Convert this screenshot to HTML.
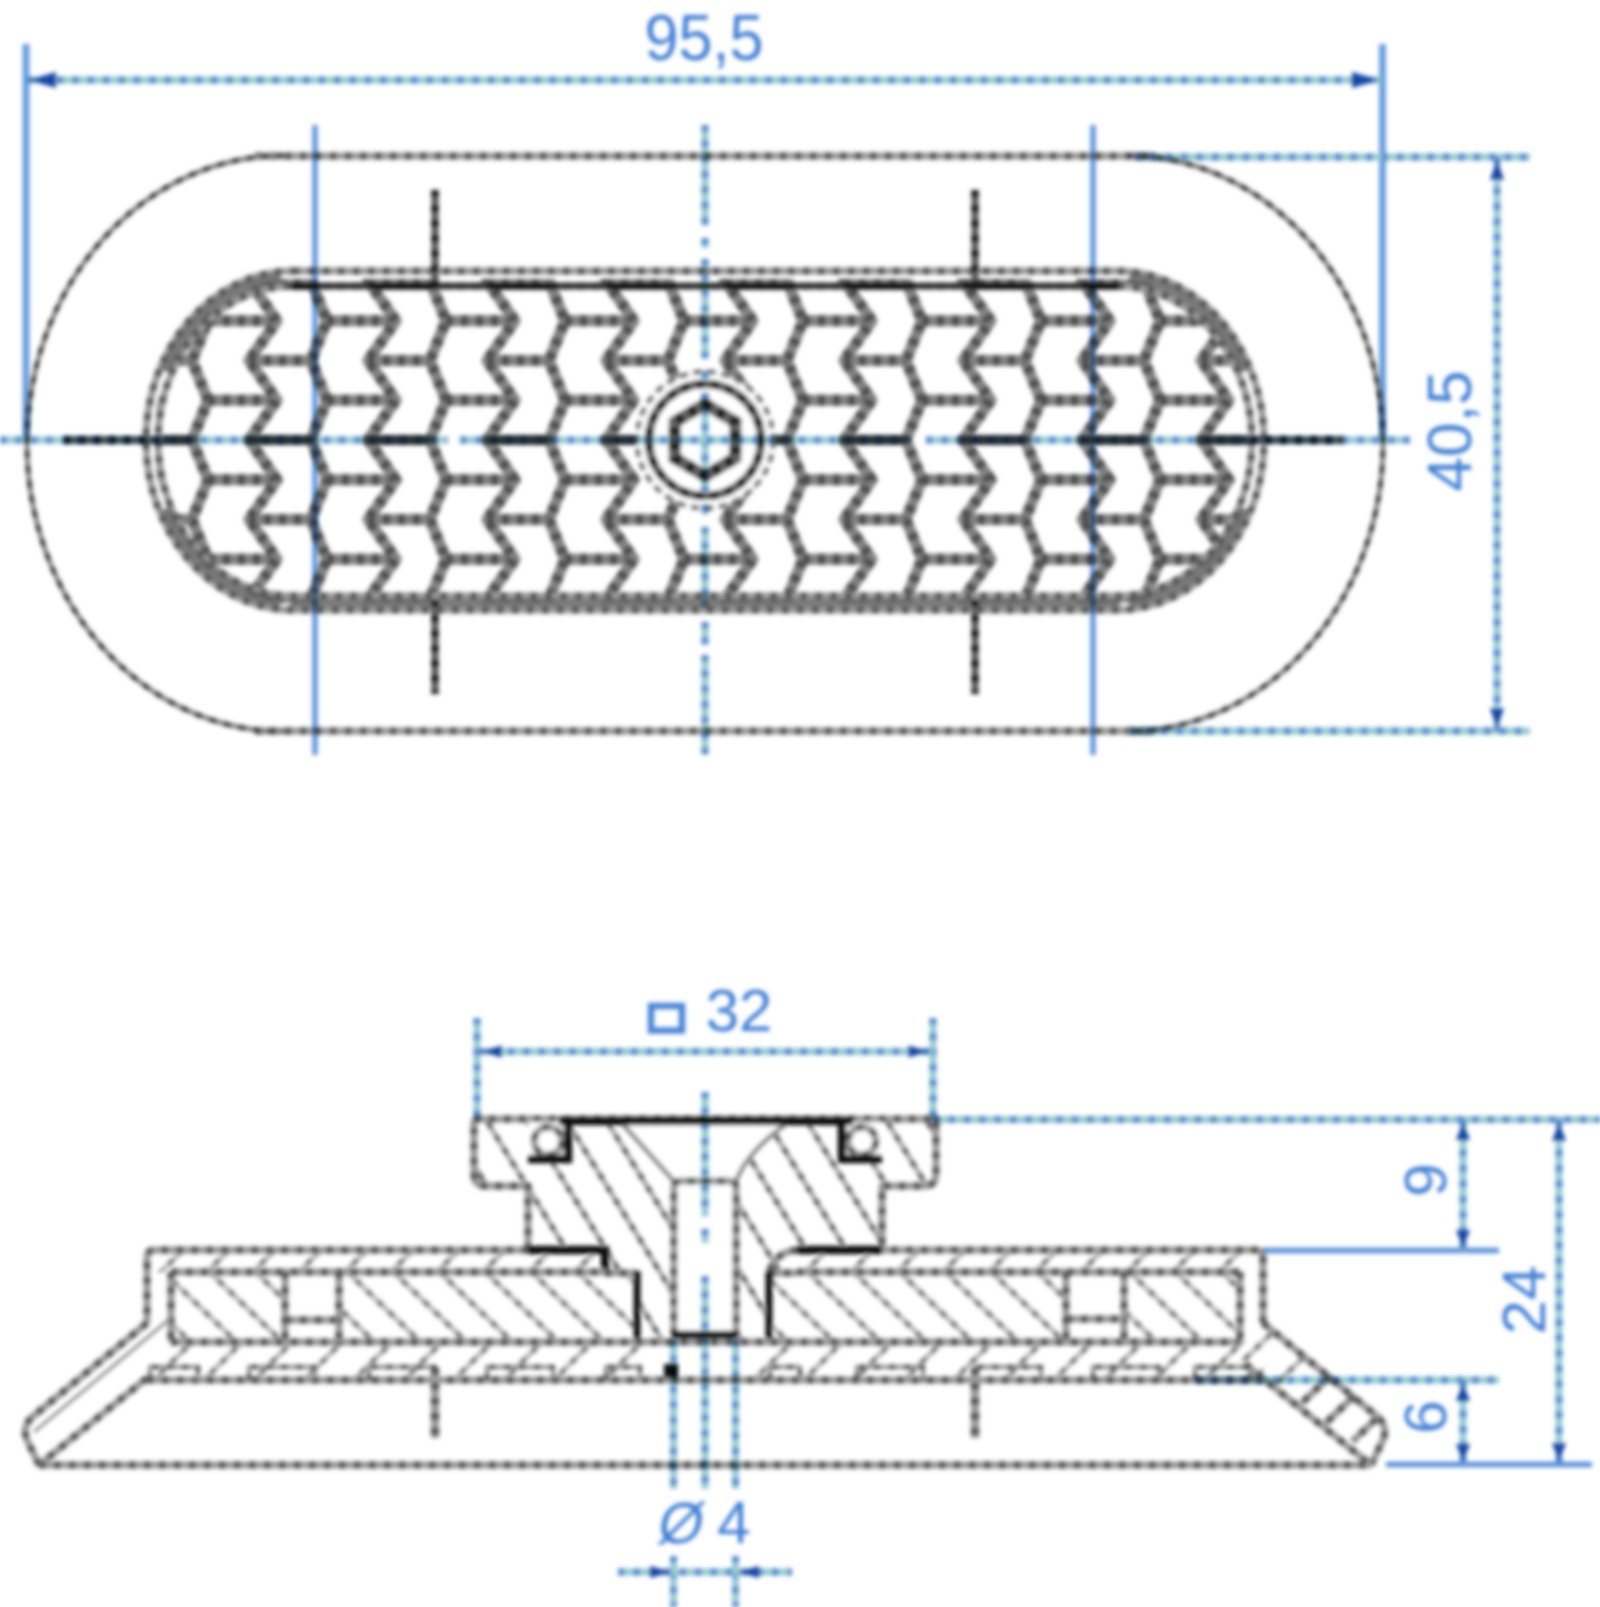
<!DOCTYPE html>
<html lang="en"><head><meta charset="utf-8"><title>Suction pad drawing</title>
<style>
html,body{margin:0;padding:0;background:#fff;}
body{width:1600px;height:1607px;overflow:hidden;}
svg{display:block}
.g,.g0{stroke:#555;stroke-width:7;fill:none;stroke-linecap:butt;stroke-linejoin:round;stroke-dasharray:6.5 8.5}
.g0{stroke:#9a9a9a;stroke-dasharray:none}
.ga{stroke:#4a4a4a;stroke-width:4.6;fill:none}
.gt,.gt0{stroke:#3c3c3c;stroke-width:4.8;fill:none;stroke-dasharray:8 7}
.gt0{stroke:#858585;stroke-dasharray:none}
.gl{stroke:#777;stroke-width:4.5;fill:none}
.gw{stroke:#4c4c4c;stroke-width:5.5;fill:#fff;stroke-linejoin:round}
.k{stroke:#111;stroke-width:8.5;fill:none;stroke-linecap:butt}
.kt,.kt0{stroke:#1c1c1c;stroke-width:7.5;fill:none;stroke-dasharray:7 8}
.kt0{stroke:#606060;stroke-dasharray:none}
.p,.p0{stroke:#4e4e4e;stroke-width:11;fill:none;stroke-linejoin:round;stroke-linecap:butt;stroke-dasharray:7 8}
.p0{stroke:#828282;stroke-dasharray:none}
.h,.h0{stroke:#787878;stroke-width:5;fill:none;stroke-dasharray:6.5 8.5}
.h0{stroke:#bbb;stroke-dasharray:none}
.hc,.hc0{stroke:#606060;stroke-width:5;fill:none;stroke-dasharray:6.5 8.5}
.hc0{stroke:#a8a8a8;stroke-dasharray:none}
.bb{stroke:#98ccd2;stroke-width:7;fill:none}
.b{stroke:#5a8bd0;stroke-width:7;fill:none;stroke-dasharray:6.5 8.9}
.bs{stroke:#6296dc;stroke-width:5.5;fill:none}
.ar{fill:#124aa6;stroke:none}
text{font-family:"Liberation Sans",sans-serif;fill:#3f7fd4}
</style></head><body>
<svg width="1600" height="1607" viewBox="0 0 1600 1607">
<defs>
<filter id="bl" x="-2%" y="-2%" width="104%" height="104%"><feGaussianBlur stdDeviation="2.3"/></filter>
<filter id="bt" x="-10%" y="-10%" width="120%" height="120%"><feGaussianBlur stdDeviation="2.2"/></filter>
<clipPath id="cpad"><path d="M293,279 H1117 A139,162 0 0 1 1117,603 H293 A139,162 0 0 1 293,279 Z"/></clipPath>
<clipPath id="cconn"><path d="M474,1118 H936 V1174 Q936,1186 924,1186 H882 V1250 H797 V1273 H769 V1340 H637 V1273 H605 V1250 H528 V1186 H486 Q474,1186 474,1174 Z"/></clipPath>
<clipPath id="ctop"><path d="M147,1250 H605 V1272 H147 Z M797,1250 H1263 V1272 H797 Z"/></clipPath>
<clipPath id="cplate"><path d="M171,1273 H285 V1342 H171 Z M339,1273 H637 V1342 H339 Z M769,1273 H1066 V1342 H769 Z M1124,1273 H1240 V1342 H1124 Z"/></clipPath>
<clipPath id="clow"><path d="M147,1342 H1263 V1380 H147 Z"/></clipPath>
</defs>
<rect width="1600" height="1607" fill="#fff"/>
<g filter="url(#bl)">
<line x1="255.0" y1="156.0" x2="1155.0" y2="156.0" class="g0" />
<line x1="255.0" y1="156.0" x2="1155.0" y2="156.0" class="g" />
<line x1="255.0" y1="731.0" x2="1155.0" y2="731.0" class="g0" />
<line x1="255.0" y1="731.0" x2="1155.0" y2="731.0" class="g" />
<path d="M284,155.5 A257,288 0 0 0 284,731.5" class="gt0" />
<path d="M284,155.5 A257,288 0 0 0 284,731.5" class="gt" />
<path d="M1126,155.5 A257,288 0 0 1 1126,731.5" class="gt0" />
<path d="M1126,155.5 A257,288 0 0 1 1126,731.5" class="gt" />
<path d="M293,271 H1117 A147,169.5 0 0 1 1117,610 H293 A147,169.5 0 0 1 293,271 Z" class="g0" />
<path d="M293,271 H1117 A147,169.5 0 0 1 1117,610 H293 A147,169.5 0 0 1 293,271 Z" class="g" />
<g clip-path="url(#cpad)">
<polyline points="39.0,241.2 11.0,281.0 39.0,320.8 11.0,360.5 39.0,400.2 11.0,440.0 39.0,479.8 11.0,519.5 39.0,559.2 11.0,599.0 39.0,638.8" class="p0"/>
<polyline points="39.0,241.2 11.0,281.0 39.0,320.8 11.0,360.5 39.0,400.2 11.0,440.0 39.0,479.8 11.0,519.5 39.0,559.2 11.0,599.0 39.0,638.8" class="p"/>
<polyline points="89.0,241.2 73.0,281.0 89.0,320.8 73.0,360.5 89.0,400.2 73.0,440.0 89.0,479.8 73.0,519.5 89.0,559.2 73.0,599.0 89.0,638.8" class="p0"/>
<polyline points="89.0,241.2 73.0,281.0 89.0,320.8 73.0,360.5 89.0,400.2 73.0,440.0 89.0,479.8 73.0,519.5 89.0,559.2 73.0,599.0 89.0,638.8" class="p"/>
<line x1="89.0" y1="241.2" x2="158.0" y2="241.2" class="p0" />
<line x1="89.0" y1="241.2" x2="158.0" y2="241.2" class="p" />
<line x1="11.0" y1="281.0" x2="73.0" y2="281.0" class="p0" />
<line x1="11.0" y1="281.0" x2="73.0" y2="281.0" class="p" />
<line x1="89.0" y1="320.8" x2="158.0" y2="320.8" class="p0" />
<line x1="89.0" y1="320.8" x2="158.0" y2="320.8" class="p" />
<line x1="11.0" y1="360.5" x2="73.0" y2="360.5" class="p0" />
<line x1="11.0" y1="360.5" x2="73.0" y2="360.5" class="p" />
<line x1="89.0" y1="400.2" x2="158.0" y2="400.2" class="p0" />
<line x1="89.0" y1="400.2" x2="158.0" y2="400.2" class="p" />
<line x1="11.0" y1="440.0" x2="73.0" y2="440.0" class="p0" style="stroke:#3a3a3a;stroke-width:9.5"/>
<line x1="11.0" y1="440.0" x2="73.0" y2="440.0" class="p" style="stroke:#3a3a3a;stroke-width:9.5"/>
<line x1="89.0" y1="479.8" x2="158.0" y2="479.8" class="p0" />
<line x1="89.0" y1="479.8" x2="158.0" y2="479.8" class="p" />
<line x1="11.0" y1="519.5" x2="73.0" y2="519.5" class="p0" />
<line x1="11.0" y1="519.5" x2="73.0" y2="519.5" class="p" />
<line x1="89.0" y1="559.2" x2="158.0" y2="559.2" class="p0" />
<line x1="89.0" y1="559.2" x2="158.0" y2="559.2" class="p" />
<line x1="11.0" y1="599.0" x2="73.0" y2="599.0" class="p0" />
<line x1="11.0" y1="599.0" x2="73.0" y2="599.0" class="p" />
<line x1="89.0" y1="638.8" x2="158.0" y2="638.8" class="p0" />
<line x1="89.0" y1="638.8" x2="158.0" y2="638.8" class="p" />
<polyline points="158.0,241.2 130.0,281.0 158.0,320.8 130.0,360.5 158.0,400.2 130.0,440.0 158.0,479.8 130.0,519.5 158.0,559.2 130.0,599.0 158.0,638.8" class="p0"/>
<polyline points="158.0,241.2 130.0,281.0 158.0,320.8 130.0,360.5 158.0,400.2 130.0,440.0 158.0,479.8 130.0,519.5 158.0,559.2 130.0,599.0 158.0,638.8" class="p"/>
<polyline points="208.0,241.2 192.0,281.0 208.0,320.8 192.0,360.5 208.0,400.2 192.0,440.0 208.0,479.8 192.0,519.5 208.0,559.2 192.0,599.0 208.0,638.8" class="p0"/>
<polyline points="208.0,241.2 192.0,281.0 208.0,320.8 192.0,360.5 208.0,400.2 192.0,440.0 208.0,479.8 192.0,519.5 208.0,559.2 192.0,599.0 208.0,638.8" class="p"/>
<line x1="208.0" y1="241.2" x2="277.0" y2="241.2" class="p0" />
<line x1="208.0" y1="241.2" x2="277.0" y2="241.2" class="p" />
<line x1="130.0" y1="281.0" x2="192.0" y2="281.0" class="p0" />
<line x1="130.0" y1="281.0" x2="192.0" y2="281.0" class="p" />
<line x1="208.0" y1="320.8" x2="277.0" y2="320.8" class="p0" />
<line x1="208.0" y1="320.8" x2="277.0" y2="320.8" class="p" />
<line x1="130.0" y1="360.5" x2="192.0" y2="360.5" class="p0" />
<line x1="130.0" y1="360.5" x2="192.0" y2="360.5" class="p" />
<line x1="208.0" y1="400.2" x2="277.0" y2="400.2" class="p0" />
<line x1="208.0" y1="400.2" x2="277.0" y2="400.2" class="p" />
<line x1="130.0" y1="440.0" x2="192.0" y2="440.0" class="p0" style="stroke:#3a3a3a;stroke-width:9.5"/>
<line x1="130.0" y1="440.0" x2="192.0" y2="440.0" class="p" style="stroke:#3a3a3a;stroke-width:9.5"/>
<line x1="208.0" y1="479.8" x2="277.0" y2="479.8" class="p0" />
<line x1="208.0" y1="479.8" x2="277.0" y2="479.8" class="p" />
<line x1="130.0" y1="519.5" x2="192.0" y2="519.5" class="p0" />
<line x1="130.0" y1="519.5" x2="192.0" y2="519.5" class="p" />
<line x1="208.0" y1="559.2" x2="277.0" y2="559.2" class="p0" />
<line x1="208.0" y1="559.2" x2="277.0" y2="559.2" class="p" />
<line x1="130.0" y1="599.0" x2="192.0" y2="599.0" class="p0" />
<line x1="130.0" y1="599.0" x2="192.0" y2="599.0" class="p" />
<line x1="208.0" y1="638.8" x2="277.0" y2="638.8" class="p0" />
<line x1="208.0" y1="638.8" x2="277.0" y2="638.8" class="p" />
<polyline points="277.0,241.2 249.0,281.0 277.0,320.8 249.0,360.5 277.0,400.2 249.0,440.0 277.0,479.8 249.0,519.5 277.0,559.2 249.0,599.0 277.0,638.8" class="p0"/>
<polyline points="277.0,241.2 249.0,281.0 277.0,320.8 249.0,360.5 277.0,400.2 249.0,440.0 277.0,479.8 249.0,519.5 277.0,559.2 249.0,599.0 277.0,638.8" class="p"/>
<polyline points="327.0,241.2 311.0,281.0 327.0,320.8 311.0,360.5 327.0,400.2 311.0,440.0 327.0,479.8 311.0,519.5 327.0,559.2 311.0,599.0 327.0,638.8" class="p0"/>
<polyline points="327.0,241.2 311.0,281.0 327.0,320.8 311.0,360.5 327.0,400.2 311.0,440.0 327.0,479.8 311.0,519.5 327.0,559.2 311.0,599.0 327.0,638.8" class="p"/>
<line x1="327.0" y1="241.2" x2="396.0" y2="241.2" class="p0" />
<line x1="327.0" y1="241.2" x2="396.0" y2="241.2" class="p" />
<line x1="249.0" y1="281.0" x2="311.0" y2="281.0" class="p0" />
<line x1="249.0" y1="281.0" x2="311.0" y2="281.0" class="p" />
<line x1="327.0" y1="320.8" x2="396.0" y2="320.8" class="p0" />
<line x1="327.0" y1="320.8" x2="396.0" y2="320.8" class="p" />
<line x1="249.0" y1="360.5" x2="311.0" y2="360.5" class="p0" />
<line x1="249.0" y1="360.5" x2="311.0" y2="360.5" class="p" />
<line x1="327.0" y1="400.2" x2="396.0" y2="400.2" class="p0" />
<line x1="327.0" y1="400.2" x2="396.0" y2="400.2" class="p" />
<line x1="249.0" y1="440.0" x2="311.0" y2="440.0" class="p0" style="stroke:#3a3a3a;stroke-width:9.5"/>
<line x1="249.0" y1="440.0" x2="311.0" y2="440.0" class="p" style="stroke:#3a3a3a;stroke-width:9.5"/>
<line x1="327.0" y1="479.8" x2="396.0" y2="479.8" class="p0" />
<line x1="327.0" y1="479.8" x2="396.0" y2="479.8" class="p" />
<line x1="249.0" y1="519.5" x2="311.0" y2="519.5" class="p0" />
<line x1="249.0" y1="519.5" x2="311.0" y2="519.5" class="p" />
<line x1="327.0" y1="559.2" x2="396.0" y2="559.2" class="p0" />
<line x1="327.0" y1="559.2" x2="396.0" y2="559.2" class="p" />
<line x1="249.0" y1="599.0" x2="311.0" y2="599.0" class="p0" />
<line x1="249.0" y1="599.0" x2="311.0" y2="599.0" class="p" />
<line x1="327.0" y1="638.8" x2="396.0" y2="638.8" class="p0" />
<line x1="327.0" y1="638.8" x2="396.0" y2="638.8" class="p" />
<polyline points="396.0,241.2 368.0,281.0 396.0,320.8 368.0,360.5 396.0,400.2 368.0,440.0 396.0,479.8 368.0,519.5 396.0,559.2 368.0,599.0 396.0,638.8" class="p0"/>
<polyline points="396.0,241.2 368.0,281.0 396.0,320.8 368.0,360.5 396.0,400.2 368.0,440.0 396.0,479.8 368.0,519.5 396.0,559.2 368.0,599.0 396.0,638.8" class="p"/>
<polyline points="446.0,241.2 430.0,281.0 446.0,320.8 430.0,360.5 446.0,400.2 430.0,440.0 446.0,479.8 430.0,519.5 446.0,559.2 430.0,599.0 446.0,638.8" class="p0"/>
<polyline points="446.0,241.2 430.0,281.0 446.0,320.8 430.0,360.5 446.0,400.2 430.0,440.0 446.0,479.8 430.0,519.5 446.0,559.2 430.0,599.0 446.0,638.8" class="p"/>
<line x1="446.0" y1="241.2" x2="515.0" y2="241.2" class="p0" />
<line x1="446.0" y1="241.2" x2="515.0" y2="241.2" class="p" />
<line x1="368.0" y1="281.0" x2="430.0" y2="281.0" class="p0" />
<line x1="368.0" y1="281.0" x2="430.0" y2="281.0" class="p" />
<line x1="446.0" y1="320.8" x2="515.0" y2="320.8" class="p0" />
<line x1="446.0" y1="320.8" x2="515.0" y2="320.8" class="p" />
<line x1="368.0" y1="360.5" x2="430.0" y2="360.5" class="p0" />
<line x1="368.0" y1="360.5" x2="430.0" y2="360.5" class="p" />
<line x1="446.0" y1="400.2" x2="515.0" y2="400.2" class="p0" />
<line x1="446.0" y1="400.2" x2="515.0" y2="400.2" class="p" />
<line x1="368.0" y1="440.0" x2="430.0" y2="440.0" class="p0" style="stroke:#3a3a3a;stroke-width:9.5"/>
<line x1="368.0" y1="440.0" x2="430.0" y2="440.0" class="p" style="stroke:#3a3a3a;stroke-width:9.5"/>
<line x1="446.0" y1="479.8" x2="515.0" y2="479.8" class="p0" />
<line x1="446.0" y1="479.8" x2="515.0" y2="479.8" class="p" />
<line x1="368.0" y1="519.5" x2="430.0" y2="519.5" class="p0" />
<line x1="368.0" y1="519.5" x2="430.0" y2="519.5" class="p" />
<line x1="446.0" y1="559.2" x2="515.0" y2="559.2" class="p0" />
<line x1="446.0" y1="559.2" x2="515.0" y2="559.2" class="p" />
<line x1="368.0" y1="599.0" x2="430.0" y2="599.0" class="p0" />
<line x1="368.0" y1="599.0" x2="430.0" y2="599.0" class="p" />
<line x1="446.0" y1="638.8" x2="515.0" y2="638.8" class="p0" />
<line x1="446.0" y1="638.8" x2="515.0" y2="638.8" class="p" />
<polyline points="515.0,241.2 487.0,281.0 515.0,320.8 487.0,360.5 515.0,400.2 487.0,440.0 515.0,479.8 487.0,519.5 515.0,559.2 487.0,599.0 515.0,638.8" class="p0"/>
<polyline points="515.0,241.2 487.0,281.0 515.0,320.8 487.0,360.5 515.0,400.2 487.0,440.0 515.0,479.8 487.0,519.5 515.0,559.2 487.0,599.0 515.0,638.8" class="p"/>
<polyline points="565.0,241.2 549.0,281.0 565.0,320.8 549.0,360.5 565.0,400.2 549.0,440.0 565.0,479.8 549.0,519.5 565.0,559.2 549.0,599.0 565.0,638.8" class="p0"/>
<polyline points="565.0,241.2 549.0,281.0 565.0,320.8 549.0,360.5 565.0,400.2 549.0,440.0 565.0,479.8 549.0,519.5 565.0,559.2 549.0,599.0 565.0,638.8" class="p"/>
<line x1="565.0" y1="241.2" x2="634.0" y2="241.2" class="p0" />
<line x1="565.0" y1="241.2" x2="634.0" y2="241.2" class="p" />
<line x1="487.0" y1="281.0" x2="549.0" y2="281.0" class="p0" />
<line x1="487.0" y1="281.0" x2="549.0" y2="281.0" class="p" />
<line x1="565.0" y1="320.8" x2="634.0" y2="320.8" class="p0" />
<line x1="565.0" y1="320.8" x2="634.0" y2="320.8" class="p" />
<line x1="487.0" y1="360.5" x2="549.0" y2="360.5" class="p0" />
<line x1="487.0" y1="360.5" x2="549.0" y2="360.5" class="p" />
<line x1="565.0" y1="400.2" x2="634.0" y2="400.2" class="p0" />
<line x1="565.0" y1="400.2" x2="634.0" y2="400.2" class="p" />
<line x1="487.0" y1="440.0" x2="549.0" y2="440.0" class="p0" style="stroke:#3a3a3a;stroke-width:9.5"/>
<line x1="487.0" y1="440.0" x2="549.0" y2="440.0" class="p" style="stroke:#3a3a3a;stroke-width:9.5"/>
<line x1="565.0" y1="479.8" x2="634.0" y2="479.8" class="p0" />
<line x1="565.0" y1="479.8" x2="634.0" y2="479.8" class="p" />
<line x1="487.0" y1="519.5" x2="549.0" y2="519.5" class="p0" />
<line x1="487.0" y1="519.5" x2="549.0" y2="519.5" class="p" />
<line x1="565.0" y1="559.2" x2="634.0" y2="559.2" class="p0" />
<line x1="565.0" y1="559.2" x2="634.0" y2="559.2" class="p" />
<line x1="487.0" y1="599.0" x2="549.0" y2="599.0" class="p0" />
<line x1="487.0" y1="599.0" x2="549.0" y2="599.0" class="p" />
<line x1="565.0" y1="638.8" x2="634.0" y2="638.8" class="p0" />
<line x1="565.0" y1="638.8" x2="634.0" y2="638.8" class="p" />
<polyline points="634.0,241.2 606.0,281.0 634.0,320.8 606.0,360.5 634.0,400.2 606.0,440.0 634.0,479.8 606.0,519.5 634.0,559.2 606.0,599.0 634.0,638.8" class="p0"/>
<polyline points="634.0,241.2 606.0,281.0 634.0,320.8 606.0,360.5 634.0,400.2 606.0,440.0 634.0,479.8 606.0,519.5 634.0,559.2 606.0,599.0 634.0,638.8" class="p"/>
<polyline points="684.0,241.2 668.0,281.0 684.0,320.8 668.0,360.5 684.0,400.2 668.0,440.0 684.0,479.8 668.0,519.5 684.0,559.2 668.0,599.0 684.0,638.8" class="p0"/>
<polyline points="684.0,241.2 668.0,281.0 684.0,320.8 668.0,360.5 684.0,400.2 668.0,440.0 684.0,479.8 668.0,519.5 684.0,559.2 668.0,599.0 684.0,638.8" class="p"/>
<line x1="684.0" y1="241.2" x2="753.0" y2="241.2" class="p0" />
<line x1="684.0" y1="241.2" x2="753.0" y2="241.2" class="p" />
<line x1="606.0" y1="281.0" x2="668.0" y2="281.0" class="p0" />
<line x1="606.0" y1="281.0" x2="668.0" y2="281.0" class="p" />
<line x1="684.0" y1="320.8" x2="753.0" y2="320.8" class="p0" />
<line x1="684.0" y1="320.8" x2="753.0" y2="320.8" class="p" />
<line x1="606.0" y1="360.5" x2="668.0" y2="360.5" class="p0" />
<line x1="606.0" y1="360.5" x2="668.0" y2="360.5" class="p" />
<line x1="684.0" y1="400.2" x2="753.0" y2="400.2" class="p0" />
<line x1="684.0" y1="400.2" x2="753.0" y2="400.2" class="p" />
<line x1="606.0" y1="440.0" x2="668.0" y2="440.0" class="p0" style="stroke:#3a3a3a;stroke-width:9.5"/>
<line x1="606.0" y1="440.0" x2="668.0" y2="440.0" class="p" style="stroke:#3a3a3a;stroke-width:9.5"/>
<line x1="684.0" y1="479.8" x2="753.0" y2="479.8" class="p0" />
<line x1="684.0" y1="479.8" x2="753.0" y2="479.8" class="p" />
<line x1="606.0" y1="519.5" x2="668.0" y2="519.5" class="p0" />
<line x1="606.0" y1="519.5" x2="668.0" y2="519.5" class="p" />
<line x1="684.0" y1="559.2" x2="753.0" y2="559.2" class="p0" />
<line x1="684.0" y1="559.2" x2="753.0" y2="559.2" class="p" />
<line x1="606.0" y1="599.0" x2="668.0" y2="599.0" class="p0" />
<line x1="606.0" y1="599.0" x2="668.0" y2="599.0" class="p" />
<line x1="684.0" y1="638.8" x2="753.0" y2="638.8" class="p0" />
<line x1="684.0" y1="638.8" x2="753.0" y2="638.8" class="p" />
<polyline points="753.0,241.2 725.0,281.0 753.0,320.8 725.0,360.5 753.0,400.2 725.0,440.0 753.0,479.8 725.0,519.5 753.0,559.2 725.0,599.0 753.0,638.8" class="p0"/>
<polyline points="753.0,241.2 725.0,281.0 753.0,320.8 725.0,360.5 753.0,400.2 725.0,440.0 753.0,479.8 725.0,519.5 753.0,559.2 725.0,599.0 753.0,638.8" class="p"/>
<polyline points="803.0,241.2 787.0,281.0 803.0,320.8 787.0,360.5 803.0,400.2 787.0,440.0 803.0,479.8 787.0,519.5 803.0,559.2 787.0,599.0 803.0,638.8" class="p0"/>
<polyline points="803.0,241.2 787.0,281.0 803.0,320.8 787.0,360.5 803.0,400.2 787.0,440.0 803.0,479.8 787.0,519.5 803.0,559.2 787.0,599.0 803.0,638.8" class="p"/>
<line x1="803.0" y1="241.2" x2="872.0" y2="241.2" class="p0" />
<line x1="803.0" y1="241.2" x2="872.0" y2="241.2" class="p" />
<line x1="725.0" y1="281.0" x2="787.0" y2="281.0" class="p0" />
<line x1="725.0" y1="281.0" x2="787.0" y2="281.0" class="p" />
<line x1="803.0" y1="320.8" x2="872.0" y2="320.8" class="p0" />
<line x1="803.0" y1="320.8" x2="872.0" y2="320.8" class="p" />
<line x1="725.0" y1="360.5" x2="787.0" y2="360.5" class="p0" />
<line x1="725.0" y1="360.5" x2="787.0" y2="360.5" class="p" />
<line x1="803.0" y1="400.2" x2="872.0" y2="400.2" class="p0" />
<line x1="803.0" y1="400.2" x2="872.0" y2="400.2" class="p" />
<line x1="725.0" y1="440.0" x2="787.0" y2="440.0" class="p0" style="stroke:#3a3a3a;stroke-width:9.5"/>
<line x1="725.0" y1="440.0" x2="787.0" y2="440.0" class="p" style="stroke:#3a3a3a;stroke-width:9.5"/>
<line x1="803.0" y1="479.8" x2="872.0" y2="479.8" class="p0" />
<line x1="803.0" y1="479.8" x2="872.0" y2="479.8" class="p" />
<line x1="725.0" y1="519.5" x2="787.0" y2="519.5" class="p0" />
<line x1="725.0" y1="519.5" x2="787.0" y2="519.5" class="p" />
<line x1="803.0" y1="559.2" x2="872.0" y2="559.2" class="p0" />
<line x1="803.0" y1="559.2" x2="872.0" y2="559.2" class="p" />
<line x1="725.0" y1="599.0" x2="787.0" y2="599.0" class="p0" />
<line x1="725.0" y1="599.0" x2="787.0" y2="599.0" class="p" />
<line x1="803.0" y1="638.8" x2="872.0" y2="638.8" class="p0" />
<line x1="803.0" y1="638.8" x2="872.0" y2="638.8" class="p" />
<polyline points="872.0,241.2 844.0,281.0 872.0,320.8 844.0,360.5 872.0,400.2 844.0,440.0 872.0,479.8 844.0,519.5 872.0,559.2 844.0,599.0 872.0,638.8" class="p0"/>
<polyline points="872.0,241.2 844.0,281.0 872.0,320.8 844.0,360.5 872.0,400.2 844.0,440.0 872.0,479.8 844.0,519.5 872.0,559.2 844.0,599.0 872.0,638.8" class="p"/>
<polyline points="922.0,241.2 906.0,281.0 922.0,320.8 906.0,360.5 922.0,400.2 906.0,440.0 922.0,479.8 906.0,519.5 922.0,559.2 906.0,599.0 922.0,638.8" class="p0"/>
<polyline points="922.0,241.2 906.0,281.0 922.0,320.8 906.0,360.5 922.0,400.2 906.0,440.0 922.0,479.8 906.0,519.5 922.0,559.2 906.0,599.0 922.0,638.8" class="p"/>
<line x1="922.0" y1="241.2" x2="991.0" y2="241.2" class="p0" />
<line x1="922.0" y1="241.2" x2="991.0" y2="241.2" class="p" />
<line x1="844.0" y1="281.0" x2="906.0" y2="281.0" class="p0" />
<line x1="844.0" y1="281.0" x2="906.0" y2="281.0" class="p" />
<line x1="922.0" y1="320.8" x2="991.0" y2="320.8" class="p0" />
<line x1="922.0" y1="320.8" x2="991.0" y2="320.8" class="p" />
<line x1="844.0" y1="360.5" x2="906.0" y2="360.5" class="p0" />
<line x1="844.0" y1="360.5" x2="906.0" y2="360.5" class="p" />
<line x1="922.0" y1="400.2" x2="991.0" y2="400.2" class="p0" />
<line x1="922.0" y1="400.2" x2="991.0" y2="400.2" class="p" />
<line x1="844.0" y1="440.0" x2="906.0" y2="440.0" class="p0" style="stroke:#3a3a3a;stroke-width:9.5"/>
<line x1="844.0" y1="440.0" x2="906.0" y2="440.0" class="p" style="stroke:#3a3a3a;stroke-width:9.5"/>
<line x1="922.0" y1="479.8" x2="991.0" y2="479.8" class="p0" />
<line x1="922.0" y1="479.8" x2="991.0" y2="479.8" class="p" />
<line x1="844.0" y1="519.5" x2="906.0" y2="519.5" class="p0" />
<line x1="844.0" y1="519.5" x2="906.0" y2="519.5" class="p" />
<line x1="922.0" y1="559.2" x2="991.0" y2="559.2" class="p0" />
<line x1="922.0" y1="559.2" x2="991.0" y2="559.2" class="p" />
<line x1="844.0" y1="599.0" x2="906.0" y2="599.0" class="p0" />
<line x1="844.0" y1="599.0" x2="906.0" y2="599.0" class="p" />
<line x1="922.0" y1="638.8" x2="991.0" y2="638.8" class="p0" />
<line x1="922.0" y1="638.8" x2="991.0" y2="638.8" class="p" />
<polyline points="991.0,241.2 963.0,281.0 991.0,320.8 963.0,360.5 991.0,400.2 963.0,440.0 991.0,479.8 963.0,519.5 991.0,559.2 963.0,599.0 991.0,638.8" class="p0"/>
<polyline points="991.0,241.2 963.0,281.0 991.0,320.8 963.0,360.5 991.0,400.2 963.0,440.0 991.0,479.8 963.0,519.5 991.0,559.2 963.0,599.0 991.0,638.8" class="p"/>
<polyline points="1041.0,241.2 1025.0,281.0 1041.0,320.8 1025.0,360.5 1041.0,400.2 1025.0,440.0 1041.0,479.8 1025.0,519.5 1041.0,559.2 1025.0,599.0 1041.0,638.8" class="p0"/>
<polyline points="1041.0,241.2 1025.0,281.0 1041.0,320.8 1025.0,360.5 1041.0,400.2 1025.0,440.0 1041.0,479.8 1025.0,519.5 1041.0,559.2 1025.0,599.0 1041.0,638.8" class="p"/>
<line x1="1041.0" y1="241.2" x2="1110.0" y2="241.2" class="p0" />
<line x1="1041.0" y1="241.2" x2="1110.0" y2="241.2" class="p" />
<line x1="963.0" y1="281.0" x2="1025.0" y2="281.0" class="p0" />
<line x1="963.0" y1="281.0" x2="1025.0" y2="281.0" class="p" />
<line x1="1041.0" y1="320.8" x2="1110.0" y2="320.8" class="p0" />
<line x1="1041.0" y1="320.8" x2="1110.0" y2="320.8" class="p" />
<line x1="963.0" y1="360.5" x2="1025.0" y2="360.5" class="p0" />
<line x1="963.0" y1="360.5" x2="1025.0" y2="360.5" class="p" />
<line x1="1041.0" y1="400.2" x2="1110.0" y2="400.2" class="p0" />
<line x1="1041.0" y1="400.2" x2="1110.0" y2="400.2" class="p" />
<line x1="963.0" y1="440.0" x2="1025.0" y2="440.0" class="p0" style="stroke:#3a3a3a;stroke-width:9.5"/>
<line x1="963.0" y1="440.0" x2="1025.0" y2="440.0" class="p" style="stroke:#3a3a3a;stroke-width:9.5"/>
<line x1="1041.0" y1="479.8" x2="1110.0" y2="479.8" class="p0" />
<line x1="1041.0" y1="479.8" x2="1110.0" y2="479.8" class="p" />
<line x1="963.0" y1="519.5" x2="1025.0" y2="519.5" class="p0" />
<line x1="963.0" y1="519.5" x2="1025.0" y2="519.5" class="p" />
<line x1="1041.0" y1="559.2" x2="1110.0" y2="559.2" class="p0" />
<line x1="1041.0" y1="559.2" x2="1110.0" y2="559.2" class="p" />
<line x1="963.0" y1="599.0" x2="1025.0" y2="599.0" class="p0" />
<line x1="963.0" y1="599.0" x2="1025.0" y2="599.0" class="p" />
<line x1="1041.0" y1="638.8" x2="1110.0" y2="638.8" class="p0" />
<line x1="1041.0" y1="638.8" x2="1110.0" y2="638.8" class="p" />
<polyline points="1110.0,241.2 1082.0,281.0 1110.0,320.8 1082.0,360.5 1110.0,400.2 1082.0,440.0 1110.0,479.8 1082.0,519.5 1110.0,559.2 1082.0,599.0 1110.0,638.8" class="p0"/>
<polyline points="1110.0,241.2 1082.0,281.0 1110.0,320.8 1082.0,360.5 1110.0,400.2 1082.0,440.0 1110.0,479.8 1082.0,519.5 1110.0,559.2 1082.0,599.0 1110.0,638.8" class="p"/>
<polyline points="1160.0,241.2 1144.0,281.0 1160.0,320.8 1144.0,360.5 1160.0,400.2 1144.0,440.0 1160.0,479.8 1144.0,519.5 1160.0,559.2 1144.0,599.0 1160.0,638.8" class="p0"/>
<polyline points="1160.0,241.2 1144.0,281.0 1160.0,320.8 1144.0,360.5 1160.0,400.2 1144.0,440.0 1160.0,479.8 1144.0,519.5 1160.0,559.2 1144.0,599.0 1160.0,638.8" class="p"/>
<line x1="1160.0" y1="241.2" x2="1229.0" y2="241.2" class="p0" />
<line x1="1160.0" y1="241.2" x2="1229.0" y2="241.2" class="p" />
<line x1="1082.0" y1="281.0" x2="1144.0" y2="281.0" class="p0" />
<line x1="1082.0" y1="281.0" x2="1144.0" y2="281.0" class="p" />
<line x1="1160.0" y1="320.8" x2="1229.0" y2="320.8" class="p0" />
<line x1="1160.0" y1="320.8" x2="1229.0" y2="320.8" class="p" />
<line x1="1082.0" y1="360.5" x2="1144.0" y2="360.5" class="p0" />
<line x1="1082.0" y1="360.5" x2="1144.0" y2="360.5" class="p" />
<line x1="1160.0" y1="400.2" x2="1229.0" y2="400.2" class="p0" />
<line x1="1160.0" y1="400.2" x2="1229.0" y2="400.2" class="p" />
<line x1="1082.0" y1="440.0" x2="1144.0" y2="440.0" class="p0" style="stroke:#3a3a3a;stroke-width:9.5"/>
<line x1="1082.0" y1="440.0" x2="1144.0" y2="440.0" class="p" style="stroke:#3a3a3a;stroke-width:9.5"/>
<line x1="1160.0" y1="479.8" x2="1229.0" y2="479.8" class="p0" />
<line x1="1160.0" y1="479.8" x2="1229.0" y2="479.8" class="p" />
<line x1="1082.0" y1="519.5" x2="1144.0" y2="519.5" class="p0" />
<line x1="1082.0" y1="519.5" x2="1144.0" y2="519.5" class="p" />
<line x1="1160.0" y1="559.2" x2="1229.0" y2="559.2" class="p0" />
<line x1="1160.0" y1="559.2" x2="1229.0" y2="559.2" class="p" />
<line x1="1082.0" y1="599.0" x2="1144.0" y2="599.0" class="p0" />
<line x1="1082.0" y1="599.0" x2="1144.0" y2="599.0" class="p" />
<line x1="1160.0" y1="638.8" x2="1229.0" y2="638.8" class="p0" />
<line x1="1160.0" y1="638.8" x2="1229.0" y2="638.8" class="p" />
<polyline points="1229.0,241.2 1201.0,281.0 1229.0,320.8 1201.0,360.5 1229.0,400.2 1201.0,440.0 1229.0,479.8 1201.0,519.5 1229.0,559.2 1201.0,599.0 1229.0,638.8" class="p0"/>
<polyline points="1229.0,241.2 1201.0,281.0 1229.0,320.8 1201.0,360.5 1229.0,400.2 1201.0,440.0 1229.0,479.8 1201.0,519.5 1229.0,559.2 1201.0,599.0 1229.0,638.8" class="p"/>
<polyline points="1279.0,241.2 1263.0,281.0 1279.0,320.8 1263.0,360.5 1279.0,400.2 1263.0,440.0 1279.0,479.8 1263.0,519.5 1279.0,559.2 1263.0,599.0 1279.0,638.8" class="p0"/>
<polyline points="1279.0,241.2 1263.0,281.0 1279.0,320.8 1263.0,360.5 1279.0,400.2 1263.0,440.0 1279.0,479.8 1263.0,519.5 1279.0,559.2 1263.0,599.0 1279.0,638.8" class="p"/>
<line x1="1279.0" y1="241.2" x2="1348.0" y2="241.2" class="p0" />
<line x1="1279.0" y1="241.2" x2="1348.0" y2="241.2" class="p" />
<line x1="1201.0" y1="281.0" x2="1263.0" y2="281.0" class="p0" />
<line x1="1201.0" y1="281.0" x2="1263.0" y2="281.0" class="p" />
<line x1="1279.0" y1="320.8" x2="1348.0" y2="320.8" class="p0" />
<line x1="1279.0" y1="320.8" x2="1348.0" y2="320.8" class="p" />
<line x1="1201.0" y1="360.5" x2="1263.0" y2="360.5" class="p0" />
<line x1="1201.0" y1="360.5" x2="1263.0" y2="360.5" class="p" />
<line x1="1279.0" y1="400.2" x2="1348.0" y2="400.2" class="p0" />
<line x1="1279.0" y1="400.2" x2="1348.0" y2="400.2" class="p" />
<line x1="1201.0" y1="440.0" x2="1263.0" y2="440.0" class="p0" style="stroke:#3a3a3a;stroke-width:9.5"/>
<line x1="1201.0" y1="440.0" x2="1263.0" y2="440.0" class="p" style="stroke:#3a3a3a;stroke-width:9.5"/>
<line x1="1279.0" y1="479.8" x2="1348.0" y2="479.8" class="p0" />
<line x1="1279.0" y1="479.8" x2="1348.0" y2="479.8" class="p" />
<line x1="1201.0" y1="519.5" x2="1263.0" y2="519.5" class="p0" />
<line x1="1201.0" y1="519.5" x2="1263.0" y2="519.5" class="p" />
<line x1="1279.0" y1="559.2" x2="1348.0" y2="559.2" class="p0" />
<line x1="1279.0" y1="559.2" x2="1348.0" y2="559.2" class="p" />
<line x1="1201.0" y1="599.0" x2="1263.0" y2="599.0" class="p0" />
<line x1="1201.0" y1="599.0" x2="1263.0" y2="599.0" class="p" />
<line x1="1279.0" y1="638.8" x2="1348.0" y2="638.8" class="p0" />
<line x1="1279.0" y1="638.8" x2="1348.0" y2="638.8" class="p" />
<polyline points="1348.0,241.2 1320.0,281.0 1348.0,320.8 1320.0,360.5 1348.0,400.2 1320.0,440.0 1348.0,479.8 1320.0,519.5 1348.0,559.2 1320.0,599.0 1348.0,638.8" class="p0"/>
<polyline points="1348.0,241.2 1320.0,281.0 1348.0,320.8 1320.0,360.5 1348.0,400.2 1320.0,440.0 1348.0,479.8 1320.0,519.5 1348.0,559.2 1320.0,599.0 1348.0,638.8" class="p"/>
<polyline points="1398.0,241.2 1382.0,281.0 1398.0,320.8 1382.0,360.5 1398.0,400.2 1382.0,440.0 1398.0,479.8 1382.0,519.5 1398.0,559.2 1382.0,599.0 1398.0,638.8" class="p0"/>
<polyline points="1398.0,241.2 1382.0,281.0 1398.0,320.8 1382.0,360.5 1398.0,400.2 1382.0,440.0 1398.0,479.8 1382.0,519.5 1398.0,559.2 1382.0,599.0 1398.0,638.8" class="p"/>
<line x1="1398.0" y1="241.2" x2="1467.0" y2="241.2" class="p0" />
<line x1="1398.0" y1="241.2" x2="1467.0" y2="241.2" class="p" />
<line x1="1320.0" y1="281.0" x2="1382.0" y2="281.0" class="p0" />
<line x1="1320.0" y1="281.0" x2="1382.0" y2="281.0" class="p" />
<line x1="1398.0" y1="320.8" x2="1467.0" y2="320.8" class="p0" />
<line x1="1398.0" y1="320.8" x2="1467.0" y2="320.8" class="p" />
<line x1="1320.0" y1="360.5" x2="1382.0" y2="360.5" class="p0" />
<line x1="1320.0" y1="360.5" x2="1382.0" y2="360.5" class="p" />
<line x1="1398.0" y1="400.2" x2="1467.0" y2="400.2" class="p0" />
<line x1="1398.0" y1="400.2" x2="1467.0" y2="400.2" class="p" />
<line x1="1320.0" y1="440.0" x2="1382.0" y2="440.0" class="p0" style="stroke:#3a3a3a;stroke-width:9.5"/>
<line x1="1320.0" y1="440.0" x2="1382.0" y2="440.0" class="p" style="stroke:#3a3a3a;stroke-width:9.5"/>
<line x1="1398.0" y1="479.8" x2="1467.0" y2="479.8" class="p0" />
<line x1="1398.0" y1="479.8" x2="1467.0" y2="479.8" class="p" />
<line x1="1320.0" y1="519.5" x2="1382.0" y2="519.5" class="p0" />
<line x1="1320.0" y1="519.5" x2="1382.0" y2="519.5" class="p" />
<line x1="1398.0" y1="559.2" x2="1467.0" y2="559.2" class="p0" />
<line x1="1398.0" y1="559.2" x2="1467.0" y2="559.2" class="p" />
<line x1="1320.0" y1="599.0" x2="1382.0" y2="599.0" class="p0" />
<line x1="1320.0" y1="599.0" x2="1382.0" y2="599.0" class="p" />
<line x1="1398.0" y1="638.8" x2="1467.0" y2="638.8" class="p0" />
<line x1="1398.0" y1="638.8" x2="1467.0" y2="638.8" class="p" />
</g>
<path d="M293,286 H1117 A135,155 0 0 1 1117,596 H293 A135,155 0 0 1 293,286 Z" class="g0" />
<path d="M293,286 H1117 A135,155 0 0 1 1117,596 H293 A135,155 0 0 1 293,286 Z" class="g" />
<path d="M165.2,371.3 A141,162.5 0 0 1 280.7,278.1" class="ga" style="stroke-width:11;stroke:#5a5a5a;opacity:.8"/>
<path d="M165.2,508.7 A141,162.5 0 0 0 280.7,601.9" class="ga" style="stroke-width:11;stroke:#5a5a5a;opacity:.8"/>
<path d="M1244.8,371.3 A141,162.5 0 0 0 1129.3,278.1" class="ga" style="stroke-width:11;stroke:#5a5a5a;opacity:.8"/>
<path d="M1244.8,508.7 A141,162.5 0 0 1 1129.3,601.9" class="ga" style="stroke-width:11;stroke:#5a5a5a;opacity:.8"/>
<line x1="290.0" y1="603.0" x2="1120.0" y2="603.0" class="ga" style="stroke-width:9;stroke:#666;opacity:.85"/>
<line x1="290.0" y1="286.0" x2="1120.0" y2="286.0" class="ga" style="stroke-width:6.5;stroke:#333"/>
<line x1="292.0" y1="286.0" x2="319.0" y2="286.0" class="k" style="stroke-width:7"/>
<line x1="368.0" y1="286.0" x2="438.0" y2="286.0" class="k" style="stroke-width:7"/>
<line x1="487.0" y1="286.0" x2="557.0" y2="286.0" class="k" style="stroke-width:7"/>
<line x1="606.0" y1="286.0" x2="676.0" y2="286.0" class="k" style="stroke-width:7"/>
<line x1="725.0" y1="286.0" x2="795.0" y2="286.0" class="k" style="stroke-width:7"/>
<line x1="844.0" y1="286.0" x2="914.0" y2="286.0" class="k" style="stroke-width:7"/>
<line x1="963.0" y1="286.0" x2="1033.0" y2="286.0" class="k" style="stroke-width:7"/>
<line x1="1082.0" y1="286.0" x2="1118.0" y2="286.0" class="k" style="stroke-width:7"/>
<circle cx="705" cy="440" r="68" class="gw" style="stroke:#777;stroke-width:5;stroke-dasharray:9 5"/>
<circle cx="705" cy="440" r="56" class="kt0" style="stroke-width:8.5"/>
<circle cx="705" cy="440" r="56" class="kt" style="stroke-width:8.5"/>
<polygon points="705.0,404.0 735.3,422.0 735.3,458.0 705.0,476.0 674.7,458.0 674.7,422.0" class="kt0" style="stroke-width:12"/>
<polygon points="705.0,404.0 735.3,422.0 735.3,458.0 705.0,476.0 674.7,458.0 674.7,422.0" class="kt" style="stroke-width:12"/>
<line x1="435.0" y1="190.0" x2="435.0" y2="286.0" class="kt0" />
<line x1="435.0" y1="190.0" x2="435.0" y2="286.0" class="kt" />
<line x1="435.0" y1="600.0" x2="435.0" y2="694.0" class="kt0" />
<line x1="435.0" y1="600.0" x2="435.0" y2="694.0" class="kt" />
<line x1="975.0" y1="190.0" x2="975.0" y2="286.0" class="kt0" />
<line x1="975.0" y1="190.0" x2="975.0" y2="286.0" class="kt" />
<line x1="975.0" y1="600.0" x2="975.0" y2="694.0" class="kt0" />
<line x1="975.0" y1="600.0" x2="975.0" y2="694.0" class="kt" />
<line x1="64.0" y1="440.0" x2="160.0" y2="440.0" class="kt0" />
<line x1="64.0" y1="440.0" x2="160.0" y2="440.0" class="kt" />
<line x1="1250.0" y1="440.0" x2="1343.0" y2="440.0" class="kt0" />
<line x1="1250.0" y1="440.0" x2="1343.0" y2="440.0" class="kt" />
<g clip-path="url(#cconn)">
<line x1="200.0" y1="1110.0" x2="348.1" y2="1350.0" class="hc0" />
<line x1="200.0" y1="1110.0" x2="348.1" y2="1350.0" class="hc" />
<line x1="240.0" y1="1110.0" x2="388.1" y2="1350.0" class="hc0" />
<line x1="240.0" y1="1110.0" x2="388.1" y2="1350.0" class="hc" />
<line x1="280.0" y1="1110.0" x2="428.1" y2="1350.0" class="hc0" />
<line x1="280.0" y1="1110.0" x2="428.1" y2="1350.0" class="hc" />
<line x1="320.0" y1="1110.0" x2="468.1" y2="1350.0" class="hc0" />
<line x1="320.0" y1="1110.0" x2="468.1" y2="1350.0" class="hc" />
<line x1="360.0" y1="1110.0" x2="508.1" y2="1350.0" class="hc0" />
<line x1="360.0" y1="1110.0" x2="508.1" y2="1350.0" class="hc" />
<line x1="400.0" y1="1110.0" x2="548.1" y2="1350.0" class="hc0" />
<line x1="400.0" y1="1110.0" x2="548.1" y2="1350.0" class="hc" />
<line x1="440.0" y1="1110.0" x2="588.1" y2="1350.0" class="hc0" />
<line x1="440.0" y1="1110.0" x2="588.1" y2="1350.0" class="hc" />
<line x1="480.0" y1="1110.0" x2="628.1" y2="1350.0" class="hc0" />
<line x1="480.0" y1="1110.0" x2="628.1" y2="1350.0" class="hc" />
<line x1="520.0" y1="1110.0" x2="668.1" y2="1350.0" class="hc0" />
<line x1="520.0" y1="1110.0" x2="668.1" y2="1350.0" class="hc" />
<line x1="560.0" y1="1110.0" x2="708.1" y2="1350.0" class="hc0" />
<line x1="560.0" y1="1110.0" x2="708.1" y2="1350.0" class="hc" />
<line x1="600.0" y1="1110.0" x2="748.1" y2="1350.0" class="hc0" />
<line x1="600.0" y1="1110.0" x2="748.1" y2="1350.0" class="hc" />
<line x1="640.0" y1="1110.0" x2="788.1" y2="1350.0" class="hc0" />
<line x1="640.0" y1="1110.0" x2="788.1" y2="1350.0" class="hc" />
<line x1="680.0" y1="1110.0" x2="828.1" y2="1350.0" class="hc0" />
<line x1="680.0" y1="1110.0" x2="828.1" y2="1350.0" class="hc" />
<line x1="720.0" y1="1110.0" x2="868.1" y2="1350.0" class="hc0" />
<line x1="720.0" y1="1110.0" x2="868.1" y2="1350.0" class="hc" />
<line x1="760.0" y1="1110.0" x2="908.1" y2="1350.0" class="hc0" />
<line x1="760.0" y1="1110.0" x2="908.1" y2="1350.0" class="hc" />
<line x1="800.0" y1="1110.0" x2="948.1" y2="1350.0" class="hc0" />
<line x1="800.0" y1="1110.0" x2="948.1" y2="1350.0" class="hc" />
<line x1="840.0" y1="1110.0" x2="988.1" y2="1350.0" class="hc0" />
<line x1="840.0" y1="1110.0" x2="988.1" y2="1350.0" class="hc" />
<line x1="880.0" y1="1110.0" x2="1028.1" y2="1350.0" class="hc0" />
<line x1="880.0" y1="1110.0" x2="1028.1" y2="1350.0" class="hc" />
<line x1="920.0" y1="1110.0" x2="1068.1" y2="1350.0" class="hc0" />
<line x1="920.0" y1="1110.0" x2="1068.1" y2="1350.0" class="hc" />
<line x1="960.0" y1="1110.0" x2="1108.1" y2="1350.0" class="hc0" />
<line x1="960.0" y1="1110.0" x2="1108.1" y2="1350.0" class="hc" />
<line x1="1000.0" y1="1110.0" x2="1148.1" y2="1350.0" class="hc0" />
<line x1="1000.0" y1="1110.0" x2="1148.1" y2="1350.0" class="hc" />
<line x1="1040.0" y1="1110.0" x2="1188.1" y2="1350.0" class="hc0" />
<line x1="1040.0" y1="1110.0" x2="1188.1" y2="1350.0" class="hc" />
</g>
<g clip-path="url(#ctop)">
<line x1="158.0" y1="1275.0" x2="185.0" y2="1248.0" class="h0" />
<line x1="158.0" y1="1275.0" x2="185.0" y2="1248.0" class="h" />
<line x1="204.0" y1="1275.0" x2="231.0" y2="1248.0" class="h0" />
<line x1="204.0" y1="1275.0" x2="231.0" y2="1248.0" class="h" />
<line x1="250.0" y1="1275.0" x2="277.0" y2="1248.0" class="h0" />
<line x1="250.0" y1="1275.0" x2="277.0" y2="1248.0" class="h" />
<line x1="296.0" y1="1275.0" x2="323.0" y2="1248.0" class="h0" />
<line x1="296.0" y1="1275.0" x2="323.0" y2="1248.0" class="h" />
<line x1="342.0" y1="1275.0" x2="369.0" y2="1248.0" class="h0" />
<line x1="342.0" y1="1275.0" x2="369.0" y2="1248.0" class="h" />
<line x1="388.0" y1="1275.0" x2="415.0" y2="1248.0" class="h0" />
<line x1="388.0" y1="1275.0" x2="415.0" y2="1248.0" class="h" />
<line x1="434.0" y1="1275.0" x2="461.0" y2="1248.0" class="h0" />
<line x1="434.0" y1="1275.0" x2="461.0" y2="1248.0" class="h" />
<line x1="480.0" y1="1275.0" x2="507.0" y2="1248.0" class="h0" />
<line x1="480.0" y1="1275.0" x2="507.0" y2="1248.0" class="h" />
<line x1="526.0" y1="1275.0" x2="553.0" y2="1248.0" class="h0" />
<line x1="526.0" y1="1275.0" x2="553.0" y2="1248.0" class="h" />
<line x1="572.0" y1="1275.0" x2="599.0" y2="1248.0" class="h0" />
<line x1="572.0" y1="1275.0" x2="599.0" y2="1248.0" class="h" />
<line x1="618.0" y1="1275.0" x2="645.0" y2="1248.0" class="h0" />
<line x1="618.0" y1="1275.0" x2="645.0" y2="1248.0" class="h" />
<line x1="664.0" y1="1275.0" x2="691.0" y2="1248.0" class="h0" />
<line x1="664.0" y1="1275.0" x2="691.0" y2="1248.0" class="h" />
<line x1="710.0" y1="1275.0" x2="737.0" y2="1248.0" class="h0" />
<line x1="710.0" y1="1275.0" x2="737.0" y2="1248.0" class="h" />
<line x1="756.0" y1="1275.0" x2="783.0" y2="1248.0" class="h0" />
<line x1="756.0" y1="1275.0" x2="783.0" y2="1248.0" class="h" />
<line x1="802.0" y1="1275.0" x2="829.0" y2="1248.0" class="h0" />
<line x1="802.0" y1="1275.0" x2="829.0" y2="1248.0" class="h" />
<line x1="848.0" y1="1275.0" x2="875.0" y2="1248.0" class="h0" />
<line x1="848.0" y1="1275.0" x2="875.0" y2="1248.0" class="h" />
<line x1="894.0" y1="1275.0" x2="921.0" y2="1248.0" class="h0" />
<line x1="894.0" y1="1275.0" x2="921.0" y2="1248.0" class="h" />
<line x1="940.0" y1="1275.0" x2="967.0" y2="1248.0" class="h0" />
<line x1="940.0" y1="1275.0" x2="967.0" y2="1248.0" class="h" />
<line x1="986.0" y1="1275.0" x2="1013.0" y2="1248.0" class="h0" />
<line x1="986.0" y1="1275.0" x2="1013.0" y2="1248.0" class="h" />
<line x1="1032.0" y1="1275.0" x2="1059.0" y2="1248.0" class="h0" />
<line x1="1032.0" y1="1275.0" x2="1059.0" y2="1248.0" class="h" />
<line x1="1078.0" y1="1275.0" x2="1105.0" y2="1248.0" class="h0" />
<line x1="1078.0" y1="1275.0" x2="1105.0" y2="1248.0" class="h" />
<line x1="1124.0" y1="1275.0" x2="1151.0" y2="1248.0" class="h0" />
<line x1="1124.0" y1="1275.0" x2="1151.0" y2="1248.0" class="h" />
<line x1="1170.0" y1="1275.0" x2="1197.0" y2="1248.0" class="h0" />
<line x1="1170.0" y1="1275.0" x2="1197.0" y2="1248.0" class="h" />
<line x1="1216.0" y1="1275.0" x2="1243.0" y2="1248.0" class="h0" />
<line x1="1216.0" y1="1275.0" x2="1243.0" y2="1248.0" class="h" />
<line x1="1262.0" y1="1275.0" x2="1289.0" y2="1248.0" class="h0" />
<line x1="1262.0" y1="1275.0" x2="1289.0" y2="1248.0" class="h" />
<line x1="1308.0" y1="1275.0" x2="1335.0" y2="1248.0" class="h0" />
<line x1="1308.0" y1="1275.0" x2="1335.0" y2="1248.0" class="h" />
</g>
<g clip-path="url(#cplate)">
<line x1="115.5" y1="1270.0" x2="193.5" y2="1345.0" class="h0" />
<line x1="115.5" y1="1270.0" x2="193.5" y2="1345.0" class="h" />
<line x1="161.5" y1="1270.0" x2="239.5" y2="1345.0" class="h0" />
<line x1="161.5" y1="1270.0" x2="239.5" y2="1345.0" class="h" />
<line x1="207.5" y1="1270.0" x2="285.5" y2="1345.0" class="h0" />
<line x1="207.5" y1="1270.0" x2="285.5" y2="1345.0" class="h" />
<line x1="253.5" y1="1270.0" x2="331.5" y2="1345.0" class="h0" />
<line x1="253.5" y1="1270.0" x2="331.5" y2="1345.0" class="h" />
<line x1="299.5" y1="1270.0" x2="377.5" y2="1345.0" class="h0" />
<line x1="299.5" y1="1270.0" x2="377.5" y2="1345.0" class="h" />
<line x1="345.5" y1="1270.0" x2="423.5" y2="1345.0" class="h0" />
<line x1="345.5" y1="1270.0" x2="423.5" y2="1345.0" class="h" />
<line x1="391.5" y1="1270.0" x2="469.5" y2="1345.0" class="h0" />
<line x1="391.5" y1="1270.0" x2="469.5" y2="1345.0" class="h" />
<line x1="437.5" y1="1270.0" x2="515.5" y2="1345.0" class="h0" />
<line x1="437.5" y1="1270.0" x2="515.5" y2="1345.0" class="h" />
<line x1="483.5" y1="1270.0" x2="561.5" y2="1345.0" class="h0" />
<line x1="483.5" y1="1270.0" x2="561.5" y2="1345.0" class="h" />
<line x1="529.5" y1="1270.0" x2="607.5" y2="1345.0" class="h0" />
<line x1="529.5" y1="1270.0" x2="607.5" y2="1345.0" class="h" />
<line x1="575.5" y1="1270.0" x2="653.5" y2="1345.0" class="h0" />
<line x1="575.5" y1="1270.0" x2="653.5" y2="1345.0" class="h" />
<line x1="621.5" y1="1270.0" x2="699.5" y2="1345.0" class="h0" />
<line x1="621.5" y1="1270.0" x2="699.5" y2="1345.0" class="h" />
<line x1="667.5" y1="1270.0" x2="745.5" y2="1345.0" class="h0" />
<line x1="667.5" y1="1270.0" x2="745.5" y2="1345.0" class="h" />
<line x1="713.5" y1="1270.0" x2="791.5" y2="1345.0" class="h0" />
<line x1="713.5" y1="1270.0" x2="791.5" y2="1345.0" class="h" />
<line x1="759.5" y1="1270.0" x2="837.5" y2="1345.0" class="h0" />
<line x1="759.5" y1="1270.0" x2="837.5" y2="1345.0" class="h" />
<line x1="805.5" y1="1270.0" x2="883.5" y2="1345.0" class="h0" />
<line x1="805.5" y1="1270.0" x2="883.5" y2="1345.0" class="h" />
<line x1="851.5" y1="1270.0" x2="929.5" y2="1345.0" class="h0" />
<line x1="851.5" y1="1270.0" x2="929.5" y2="1345.0" class="h" />
<line x1="897.5" y1="1270.0" x2="975.5" y2="1345.0" class="h0" />
<line x1="897.5" y1="1270.0" x2="975.5" y2="1345.0" class="h" />
<line x1="943.5" y1="1270.0" x2="1021.5" y2="1345.0" class="h0" />
<line x1="943.5" y1="1270.0" x2="1021.5" y2="1345.0" class="h" />
<line x1="989.5" y1="1270.0" x2="1067.5" y2="1345.0" class="h0" />
<line x1="989.5" y1="1270.0" x2="1067.5" y2="1345.0" class="h" />
<line x1="1035.5" y1="1270.0" x2="1113.5" y2="1345.0" class="h0" />
<line x1="1035.5" y1="1270.0" x2="1113.5" y2="1345.0" class="h" />
<line x1="1081.5" y1="1270.0" x2="1159.5" y2="1345.0" class="h0" />
<line x1="1081.5" y1="1270.0" x2="1159.5" y2="1345.0" class="h" />
<line x1="1127.5" y1="1270.0" x2="1205.5" y2="1345.0" class="h0" />
<line x1="1127.5" y1="1270.0" x2="1205.5" y2="1345.0" class="h" />
<line x1="1173.5" y1="1270.0" x2="1251.5" y2="1345.0" class="h0" />
<line x1="1173.5" y1="1270.0" x2="1251.5" y2="1345.0" class="h" />
<line x1="1219.5" y1="1270.0" x2="1297.5" y2="1345.0" class="h0" />
<line x1="1219.5" y1="1270.0" x2="1297.5" y2="1345.0" class="h" />
<line x1="1265.5" y1="1270.0" x2="1343.5" y2="1345.0" class="h0" />
<line x1="1265.5" y1="1270.0" x2="1343.5" y2="1345.0" class="h" />
<line x1="1311.5" y1="1270.0" x2="1389.5" y2="1345.0" class="h0" />
<line x1="1311.5" y1="1270.0" x2="1389.5" y2="1345.0" class="h" />
<line x1="1357.5" y1="1270.0" x2="1435.5" y2="1345.0" class="h0" />
<line x1="1357.5" y1="1270.0" x2="1435.5" y2="1345.0" class="h" />
</g>
<g clip-path="url(#clow)">
<line x1="150.0" y1="1384.0" x2="194.0" y2="1340.0" class="h0" />
<line x1="150.0" y1="1384.0" x2="194.0" y2="1340.0" class="h" />
<line x1="200.0" y1="1384.0" x2="244.0" y2="1340.0" class="h0" />
<line x1="200.0" y1="1384.0" x2="244.0" y2="1340.0" class="h" />
<line x1="250.0" y1="1384.0" x2="294.0" y2="1340.0" class="h0" />
<line x1="250.0" y1="1384.0" x2="294.0" y2="1340.0" class="h" />
<line x1="300.0" y1="1384.0" x2="344.0" y2="1340.0" class="h0" />
<line x1="300.0" y1="1384.0" x2="344.0" y2="1340.0" class="h" />
<line x1="350.0" y1="1384.0" x2="394.0" y2="1340.0" class="h0" />
<line x1="350.0" y1="1384.0" x2="394.0" y2="1340.0" class="h" />
<line x1="400.0" y1="1384.0" x2="444.0" y2="1340.0" class="h0" />
<line x1="400.0" y1="1384.0" x2="444.0" y2="1340.0" class="h" />
<line x1="450.0" y1="1384.0" x2="494.0" y2="1340.0" class="h0" />
<line x1="450.0" y1="1384.0" x2="494.0" y2="1340.0" class="h" />
<line x1="500.0" y1="1384.0" x2="544.0" y2="1340.0" class="h0" />
<line x1="500.0" y1="1384.0" x2="544.0" y2="1340.0" class="h" />
<line x1="550.0" y1="1384.0" x2="594.0" y2="1340.0" class="h0" />
<line x1="550.0" y1="1384.0" x2="594.0" y2="1340.0" class="h" />
<line x1="600.0" y1="1384.0" x2="644.0" y2="1340.0" class="h0" />
<line x1="600.0" y1="1384.0" x2="644.0" y2="1340.0" class="h" />
<line x1="750.0" y1="1384.0" x2="794.0" y2="1340.0" class="h0" />
<line x1="750.0" y1="1384.0" x2="794.0" y2="1340.0" class="h" />
<line x1="800.0" y1="1384.0" x2="844.0" y2="1340.0" class="h0" />
<line x1="800.0" y1="1384.0" x2="844.0" y2="1340.0" class="h" />
<line x1="850.0" y1="1384.0" x2="894.0" y2="1340.0" class="h0" />
<line x1="850.0" y1="1384.0" x2="894.0" y2="1340.0" class="h" />
<line x1="900.0" y1="1384.0" x2="944.0" y2="1340.0" class="h0" />
<line x1="900.0" y1="1384.0" x2="944.0" y2="1340.0" class="h" />
<line x1="950.0" y1="1384.0" x2="994.0" y2="1340.0" class="h0" />
<line x1="950.0" y1="1384.0" x2="994.0" y2="1340.0" class="h" />
<line x1="1000.0" y1="1384.0" x2="1044.0" y2="1340.0" class="h0" />
<line x1="1000.0" y1="1384.0" x2="1044.0" y2="1340.0" class="h" />
<line x1="1050.0" y1="1384.0" x2="1094.0" y2="1340.0" class="h0" />
<line x1="1050.0" y1="1384.0" x2="1094.0" y2="1340.0" class="h" />
<line x1="1100.0" y1="1384.0" x2="1144.0" y2="1340.0" class="h0" />
<line x1="1100.0" y1="1384.0" x2="1144.0" y2="1340.0" class="h" />
<line x1="1150.0" y1="1384.0" x2="1194.0" y2="1340.0" class="h0" />
<line x1="1150.0" y1="1384.0" x2="1194.0" y2="1340.0" class="h" />
<line x1="1200.0" y1="1384.0" x2="1244.0" y2="1340.0" class="h0" />
<line x1="1200.0" y1="1384.0" x2="1244.0" y2="1340.0" class="h" />
<line x1="1250.0" y1="1384.0" x2="1294.0" y2="1340.0" class="h0" />
<line x1="1250.0" y1="1384.0" x2="1294.0" y2="1340.0" class="h" />
<line x1="1300.0" y1="1384.0" x2="1344.0" y2="1340.0" class="h0" />
<line x1="1300.0" y1="1384.0" x2="1344.0" y2="1340.0" class="h" />
</g>
<path d="M474,1119 H936 V1174 Q936,1186 924,1186 H882 V1250 M528,1250 V1186 H486 Q474,1186 474,1174 V1119" class="g0" />
<path d="M474,1119 H936 V1174 Q936,1186 924,1186 H882 V1250 M528,1250 V1186 H486 Q474,1186 474,1174 V1119" class="g" />
<rect x="528" y="1122" width="40" height="37" fill="#fff"/>
<rect x="842" y="1122" width="40" height="37" fill="#fff"/>
<circle cx="548" cy="1141" r="14" class="g0"/>
<circle cx="548" cy="1141" r="14" class="g"/>
<circle cx="862" cy="1141" r="14" class="g0"/>
<circle cx="862" cy="1141" r="14" class="g"/>
<path d="M528,1159 H568 V1122" class="k" />
<path d="M882,1159 H842 V1122" class="k" />
<path d="M621,1122 L674,1181 V1335 H736 V1181 Q748,1150 789,1122 Z" class="gw" style="stroke:#888;stroke-width:4.5"/>
<path d="M674,1335 V1188 Q674,1181 681,1181 H729 Q736,1181 736,1188 V1335" class="g0" />
<path d="M674,1335 V1188 Q674,1181 681,1181 H729 Q736,1181 736,1188 V1335" class="g" />
<line x1="559.0" y1="1121.0" x2="853.0" y2="1121.0" class="k" />
<line x1="672.0" y1="1335.0" x2="738.0" y2="1335.0" class="k" />
<path d="M528,1250 H605 V1273" class="k" />
<path d="M882,1250 H797" class="k" />
<path d="M797,1250 Q775,1252 769,1273" class="g0" />
<path d="M797,1250 Q775,1252 769,1273" class="g" />
<line x1="605.0" y1="1273.0" x2="637.0" y2="1273.0" class="g0" />
<line x1="605.0" y1="1273.0" x2="637.0" y2="1273.0" class="g" />
<line x1="769.0" y1="1273.0" x2="797.0" y2="1273.0" class="g0" />
<line x1="769.0" y1="1273.0" x2="797.0" y2="1273.0" class="g" />
<line x1="637.0" y1="1271.0" x2="637.0" y2="1340.0" class="k" style="stroke-width:7"/>
<line x1="769.0" y1="1271.0" x2="769.0" y2="1340.0" class="k" style="stroke-width:7"/>
<path d="M1263,1323 V1258 Q1263,1250 1255,1250 H882 M528,1250 H155 Q147,1250 147,1258 V1323" class="g0" />
<path d="M1263,1323 V1258 Q1263,1250 1255,1250 H882 M528,1250 H155 Q147,1250 147,1258 V1323" class="g" />
<path d="M171,1272 H605 M797,1272 H1240" class="g0" />
<path d="M171,1272 H605 M797,1272 H1240" class="g" />
<path d="M171,1272 V1342 M1240,1272 V1342" class="g0" />
<path d="M171,1272 V1342 M1240,1272 V1342" class="g" />
<line x1="171.0" y1="1342.0" x2="1240.0" y2="1342.0" class="g0" />
<line x1="171.0" y1="1342.0" x2="1240.0" y2="1342.0" class="g" />
<line x1="285.0" y1="1272.0" x2="285.0" y2="1342.0" class="g0" />
<line x1="285.0" y1="1272.0" x2="285.0" y2="1342.0" class="g" />
<line x1="339.0" y1="1272.0" x2="339.0" y2="1342.0" class="g0" />
<line x1="339.0" y1="1272.0" x2="339.0" y2="1342.0" class="g" />
<line x1="1066.0" y1="1272.0" x2="1066.0" y2="1342.0" class="g0" />
<line x1="1066.0" y1="1272.0" x2="1066.0" y2="1342.0" class="g" />
<line x1="1124.0" y1="1272.0" x2="1124.0" y2="1342.0" class="g0" />
<line x1="1124.0" y1="1272.0" x2="1124.0" y2="1342.0" class="g" />
<line x1="285.0" y1="1320.0" x2="339.0" y2="1320.0" class="g0" />
<line x1="285.0" y1="1320.0" x2="339.0" y2="1320.0" class="g" />
<line x1="1066.0" y1="1319.0" x2="1124.0" y2="1319.0" class="g0" />
<line x1="1066.0" y1="1319.0" x2="1124.0" y2="1319.0" class="g" />
<line x1="147.0" y1="1380.0" x2="1263.0" y2="1380.0" class="g0" />
<line x1="147.0" y1="1380.0" x2="1263.0" y2="1380.0" class="g" />
<path d="M150,1380 V1367 H198 V1380" class="g0" style="stroke-width:4.5"/>
<path d="M150,1380 V1367 H198 V1380" class="g" style="stroke-width:4.5"/>
<path d="M249,1380 V1367 H315 V1380" class="g0" style="stroke-width:4.5"/>
<path d="M249,1380 V1367 H315 V1380" class="g" style="stroke-width:4.5"/>
<path d="M369,1380 V1367 H435 V1380" class="g0" style="stroke-width:4.5"/>
<path d="M369,1380 V1367 H435 V1380" class="g" style="stroke-width:4.5"/>
<path d="M487,1380 V1367 H553 V1380" class="g0" style="stroke-width:4.5"/>
<path d="M487,1380 V1367 H553 V1380" class="g" style="stroke-width:4.5"/>
<path d="M606,1380 V1367 H640 V1380" class="g0" style="stroke-width:4.5"/>
<path d="M606,1380 V1367 H640 V1380" class="g" style="stroke-width:4.5"/>
<path d="M770,1380 V1367 H800 V1380" class="g0" style="stroke-width:4.5"/>
<path d="M770,1380 V1367 H800 V1380" class="g" style="stroke-width:4.5"/>
<path d="M857,1380 V1367 H923 V1380" class="g0" style="stroke-width:4.5"/>
<path d="M857,1380 V1367 H923 V1380" class="g" style="stroke-width:4.5"/>
<path d="M975,1380 V1367 H1041 V1380" class="g0" style="stroke-width:4.5"/>
<path d="M975,1380 V1367 H1041 V1380" class="g" style="stroke-width:4.5"/>
<path d="M1093,1380 V1367 H1159 V1380" class="g0" style="stroke-width:4.5"/>
<path d="M1093,1380 V1367 H1159 V1380" class="g" style="stroke-width:4.5"/>
<path d="M1195,1380 V1367 H1250 V1380" class="g0" style="stroke-width:4.5"/>
<path d="M1195,1380 V1367 H1250 V1380" class="g" style="stroke-width:4.5"/>
<rect x="664" y="1364" width="14" height="14" fill="#111"/>
<path d="M147,1323 L31,1418 Q22,1428 27,1440 L39,1465" class="g0" />
<path d="M147,1323 L31,1418 Q22,1428 27,1440 L39,1465" class="g" />
<path d="M147,1378 L39,1465" class="g0" />
<path d="M147,1378 L39,1465" class="g" />
<path d="M171,1318 L34,1432" class="gl" style="stroke-width:3.5;stroke:#999"/>
<path d="M1263,1323 L1379,1418 Q1388,1428 1383,1440 L1371,1465" class="g0" />
<path d="M1263,1323 L1379,1418 Q1388,1428 1383,1440 L1371,1465" class="g" />
<path d="M1245,1364 L1371,1465" class="g0" />
<path d="M1245,1364 L1371,1465" class="g" />
<line x1="1271.0" y1="1334.0" x2="1242.2" y2="1361.6" class="h0" />
<line x1="1271.0" y1="1334.0" x2="1242.2" y2="1361.6" class="h" />
<line x1="1304.0" y1="1357.0" x2="1275.2" y2="1384.6" class="h0" />
<line x1="1304.0" y1="1357.0" x2="1275.2" y2="1384.6" class="h" />
<line x1="1330.0" y1="1376.0" x2="1301.2" y2="1403.6" class="g0" />
<line x1="1330.0" y1="1376.0" x2="1301.2" y2="1403.6" class="g" />
<line x1="1354.0" y1="1396.0" x2="1325.2" y2="1423.6" class="g0" />
<line x1="1354.0" y1="1396.0" x2="1325.2" y2="1423.6" class="g" />
<line x1="1376.0" y1="1419.0" x2="1353.0" y2="1441.1" class="g0" />
<line x1="1376.0" y1="1419.0" x2="1353.0" y2="1441.1" class="g" />
<line x1="39.0" y1="1465.0" x2="1371.0" y2="1465.0" class="g0" />
<line x1="39.0" y1="1465.0" x2="1371.0" y2="1465.0" class="g" />
<line x1="435.0" y1="1368.0" x2="435.0" y2="1438.0" class="g0" style="stroke-width:8.5"/>
<line x1="435.0" y1="1368.0" x2="435.0" y2="1438.0" class="g" style="stroke-width:8.5"/>
<line x1="975.0" y1="1368.0" x2="975.0" y2="1438.0" class="g0" style="stroke-width:8.5"/>
<line x1="975.0" y1="1368.0" x2="975.0" y2="1438.0" class="g" style="stroke-width:8.5"/>
</g>
<g filter="url(#bl)" style="mix-blend-mode:multiply">
<line x1="26.0" y1="44.0" x2="26.0" y2="440.0" class="bs" style="stroke:#6a9fde;stroke-width:7"/>
<line x1="1382.5" y1="44.0" x2="1382.5" y2="440.0" class="bs" style="stroke:#6a9fde;stroke-width:7"/>
<line x1="26.0" y1="80.0" x2="1382.5" y2="80.0" class="bb"/>
<line x1="26.0" y1="80.0" x2="1382.5" y2="80.0" class="b" />
<line x1="315.0" y1="125.0" x2="315.0" y2="755.0" class="bs" />
<line x1="1093.0" y1="125.0" x2="1093.0" y2="755.0" class="bs" />
<line x1="705.0" y1="125.0" x2="705.0" y2="226.0" class="bb"/>
<line x1="705.0" y1="125.0" x2="705.0" y2="226.0" class="b" />
<line x1="705.0" y1="238.0" x2="705.0" y2="248.0" class="bb"/>
<line x1="705.0" y1="238.0" x2="705.0" y2="248.0" class="b" />
<line x1="705.0" y1="259.0" x2="705.0" y2="359.0" class="bb"/>
<line x1="705.0" y1="259.0" x2="705.0" y2="359.0" class="b" />
<line x1="705.0" y1="371.0" x2="705.0" y2="381.0" class="bb"/>
<line x1="705.0" y1="371.0" x2="705.0" y2="381.0" class="b" />
<line x1="705.0" y1="393.0" x2="705.0" y2="493.0" class="bb"/>
<line x1="705.0" y1="393.0" x2="705.0" y2="493.0" class="b" />
<line x1="705.0" y1="505.0" x2="705.0" y2="515.0" class="bb"/>
<line x1="705.0" y1="505.0" x2="705.0" y2="515.0" class="b" />
<line x1="705.0" y1="527.0" x2="705.0" y2="607.0" class="bb"/>
<line x1="705.0" y1="527.0" x2="705.0" y2="607.0" class="b" />
<line x1="705.0" y1="622.0" x2="705.0" y2="645.0" class="bb"/>
<line x1="705.0" y1="622.0" x2="705.0" y2="645.0" class="b" />
<line x1="705.0" y1="655.0" x2="705.0" y2="755.0" class="bb"/>
<line x1="705.0" y1="655.0" x2="705.0" y2="755.0" class="b" />
<line x1="0.0" y1="440.0" x2="448.0" y2="440.0" class="bb"/>
<line x1="0.0" y1="440.0" x2="448.0" y2="440.0" class="b" />
<line x1="460.0" y1="440.0" x2="910.0" y2="440.0" class="bb"/>
<line x1="460.0" y1="440.0" x2="910.0" y2="440.0" class="b" />
<line x1="926.0" y1="440.0" x2="1410.0" y2="440.0" class="bb"/>
<line x1="926.0" y1="440.0" x2="1410.0" y2="440.0" class="b" />
<line x1="1135.0" y1="157.0" x2="1530.0" y2="157.0" class="bb"/>
<line x1="1135.0" y1="157.0" x2="1530.0" y2="157.0" class="b" />
<line x1="1130.0" y1="731.0" x2="1530.0" y2="731.0" class="bb"/>
<line x1="1130.0" y1="731.0" x2="1530.0" y2="731.0" class="b" />
<line x1="1497.0" y1="157.0" x2="1497.0" y2="731.0" class="bb"/>
<line x1="1497.0" y1="157.0" x2="1497.0" y2="731.0" class="b" />
<polygon class="ar" points="28.0,80.0 56.0,72.0 56.0,88.0"/>
<polygon class="ar" points="1380.0,80.0 1352.0,88.0 1352.0,72.0"/>
<polygon class="ar" points="1497.0,159.0 1504.0,180.0 1490.0,180.0"/>
<polygon class="ar" points="1497.0,729.0 1490.0,708.0 1504.0,708.0"/>
<line x1="477.0" y1="1018.0" x2="477.0" y2="1120.0" class="bb"/>
<line x1="477.0" y1="1018.0" x2="477.0" y2="1120.0" class="b" />
<line x1="933.0" y1="1018.0" x2="933.0" y2="1120.0" class="bb"/>
<line x1="933.0" y1="1018.0" x2="933.0" y2="1120.0" class="b" />
<line x1="477.0" y1="1051.5" x2="933.0" y2="1051.5" class="bb"/>
<line x1="477.0" y1="1051.5" x2="933.0" y2="1051.5" class="b" />
<polygon class="ar" points="480.0,1051.5 502.0,1045.5 502.0,1057.5"/>
<polygon class="ar" points="930.0,1051.5 908.0,1057.5 908.0,1045.5"/>
<line x1="705.0" y1="1092.0" x2="705.0" y2="1216.0" class="bb"/>
<line x1="705.0" y1="1092.0" x2="705.0" y2="1216.0" class="b" />
<line x1="705.0" y1="1229.0" x2="705.0" y2="1243.0" class="bb"/>
<line x1="705.0" y1="1229.0" x2="705.0" y2="1243.0" class="b" />
<line x1="705.0" y1="1276.0" x2="705.0" y2="1489.0" class="bb"/>
<line x1="705.0" y1="1276.0" x2="705.0" y2="1489.0" class="b" />
<line x1="673.5" y1="1340.0" x2="673.5" y2="1489.0" class="bb"/>
<line x1="673.5" y1="1340.0" x2="673.5" y2="1489.0" class="b" />
<line x1="735.5" y1="1340.0" x2="735.5" y2="1489.0" class="bb"/>
<line x1="735.5" y1="1340.0" x2="735.5" y2="1489.0" class="b" />
<line x1="673.5" y1="1556.0" x2="673.5" y2="1607.0" class="bb"/>
<line x1="673.5" y1="1556.0" x2="673.5" y2="1607.0" class="b" />
<line x1="735.5" y1="1556.0" x2="735.5" y2="1607.0" class="bb"/>
<line x1="735.5" y1="1556.0" x2="735.5" y2="1607.0" class="b" />
<line x1="618.0" y1="1572.0" x2="792.0" y2="1572.0" class="bb"/>
<line x1="618.0" y1="1572.0" x2="792.0" y2="1572.0" class="b" />
<polygon class="ar" points="672.0,1572.0 650.0,1578.0 650.0,1566.0"/>
<polygon class="ar" points="737.0,1572.0 759.0,1566.0 759.0,1578.0"/>
<line x1="933.0" y1="1119.5" x2="1600.0" y2="1119.5" class="bb"/>
<line x1="933.0" y1="1119.5" x2="1600.0" y2="1119.5" class="b" />
<line x1="1263.0" y1="1250.5" x2="1499.0" y2="1250.5" class="bs" style="stroke:#5a92da"/>
<line x1="1195.0" y1="1380.0" x2="1499.0" y2="1380.0" class="bb"/>
<line x1="1195.0" y1="1380.0" x2="1499.0" y2="1380.0" class="b" />
<line x1="1386.0" y1="1464.5" x2="1592.0" y2="1464.5" class="bs" style="stroke:#5a92da"/>
<line x1="1463.0" y1="1119.0" x2="1463.0" y2="1250.0" class="bb"/>
<line x1="1463.0" y1="1119.0" x2="1463.0" y2="1250.0" class="b" />
<line x1="1463.0" y1="1380.0" x2="1463.0" y2="1464.0" class="bb"/>
<line x1="1463.0" y1="1380.0" x2="1463.0" y2="1464.0" class="b" />
<line x1="1559.0" y1="1119.0" x2="1559.0" y2="1464.0" class="bb"/>
<line x1="1559.0" y1="1119.0" x2="1559.0" y2="1464.0" class="b" />
<polygon class="ar" points="1463.0,1122.0 1470.0,1140.0 1456.0,1140.0"/>
<polygon class="ar" points="1463.0,1248.0 1456.0,1230.0 1470.0,1230.0"/>
<polygon class="ar" points="1463.0,1383.0 1470.0,1401.0 1456.0,1401.0"/>
<polygon class="ar" points="1463.0,1462.0 1456.0,1444.0 1470.0,1444.0"/>
<polygon class="ar" points="1559.0,1122.0 1566.0,1141.0 1552.0,1141.0"/>
<polygon class="ar" points="1559.0,1462.0 1552.0,1443.0 1566.0,1443.0"/>
</g>
<g filter="url(#bt)" style="mix-blend-mode:multiply">
<text x="704" y="60" font-size="64" text-anchor="middle" textLength="119" lengthAdjust="spacingAndGlyphs">95,5</text>
<text transform="translate(1471,431) rotate(-90)" font-size="63" text-anchor="middle" textLength="121" lengthAdjust="spacingAndGlyphs">40,5</text>
<text x="739" y="1031" font-size="60" text-anchor="middle">32</text>
<rect x="651" y="1006" width="31" height="24.5" fill="none" stroke="#4a86d6" stroke-width="6.5"/>
<text x="0" y="0" font-size="58" text-anchor="middle" transform="translate(678,1543) skewX(-10)">Ø</text>
<text x="734" y="1543" font-size="60" text-anchor="middle">4</text>
<text transform="translate(1446,1180) rotate(-90)" font-size="60" text-anchor="middle">9</text>
<text transform="translate(1446,1417) rotate(-90)" font-size="60" text-anchor="middle">6</text>
<text transform="translate(1545,1300) rotate(-90)" font-size="62" text-anchor="middle">24</text>
</g>
</svg></body></html>
